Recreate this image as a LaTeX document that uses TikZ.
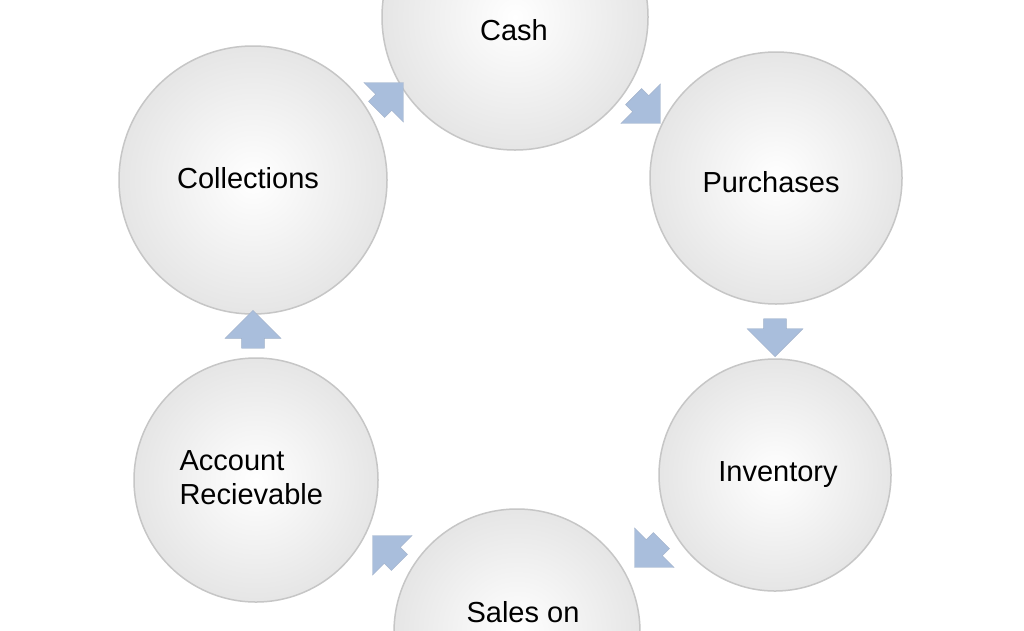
\documentclass[tikz,border=0pt]{standalone}
\usepackage{fontspec}
\setmainfont{Liberation Sans}
\usetikzlibrary{shapes.arrows}
\definecolor{arr}{HTML}{A9BEDC}
\begin{document}
\begin{tikzpicture}[x=1pt,y=-1pt,
  ball/.style={circle,draw=gray!45,line width=1.5pt,inner color=white,outer color=gray!20,minimum size=#1},
  lbl/.style={font=\fontsize{29}{34}\selectfont,align=left},
  barrow/.style={single arrow,fill=arr,draw=arr!80!gray,minimum height=38pt,minimum width=56pt,single arrow head extend=9pt,single arrow head indent=0pt,inner sep=6pt,shape border uses incircle=false}]
\useasboundingbox (0,0) rectangle (1024,630);
\fill[white] (0,0) rectangle (1024,630);
\begin{scope}
\clip (0,0) rectangle (1024,630);
\node[ball=266pt] (cash) at (515,17) {};
\node[ball=252pt] (purch) at (776,178) {};
\node[ball=232pt] (inv) at (775,475) {};
\node[ball=246pt] (sales) at (517,632) {};
\node[ball=244pt] (ar) at (256,480) {};
\node[ball=268pt] (coll) at (253,180) {};
\end{scope}
\node[lbl] (tcash) at (514,30) {Cash};
\node[lbl] (tpurch) at (771,182) {Purchases};
\node[lbl] (tinv) at (778,475) {Inventory};
\node[lbl] (tsales) at (523,612) {Sales on};
\node[lbl,anchor=west] (tar) at (176,478) {Account\\Recievable};
\node[lbl] (tcoll) at (248,178) {Collections};
\node[barrow,rotate=-45] (a1) at (643,106) {};
\node[barrow,rotate=-90] (a2) at (775,332) {};
\node[barrow,rotate=-135] (a3) at (652,550) {};
\node[barrow,rotate=135] (a4) at (390,553) {};
\node[barrow,rotate=90] (a5) at (253,335) {};
\node[barrow,rotate=45] (a6) at (386,100) {};
\end{tikzpicture}
\end{document}
